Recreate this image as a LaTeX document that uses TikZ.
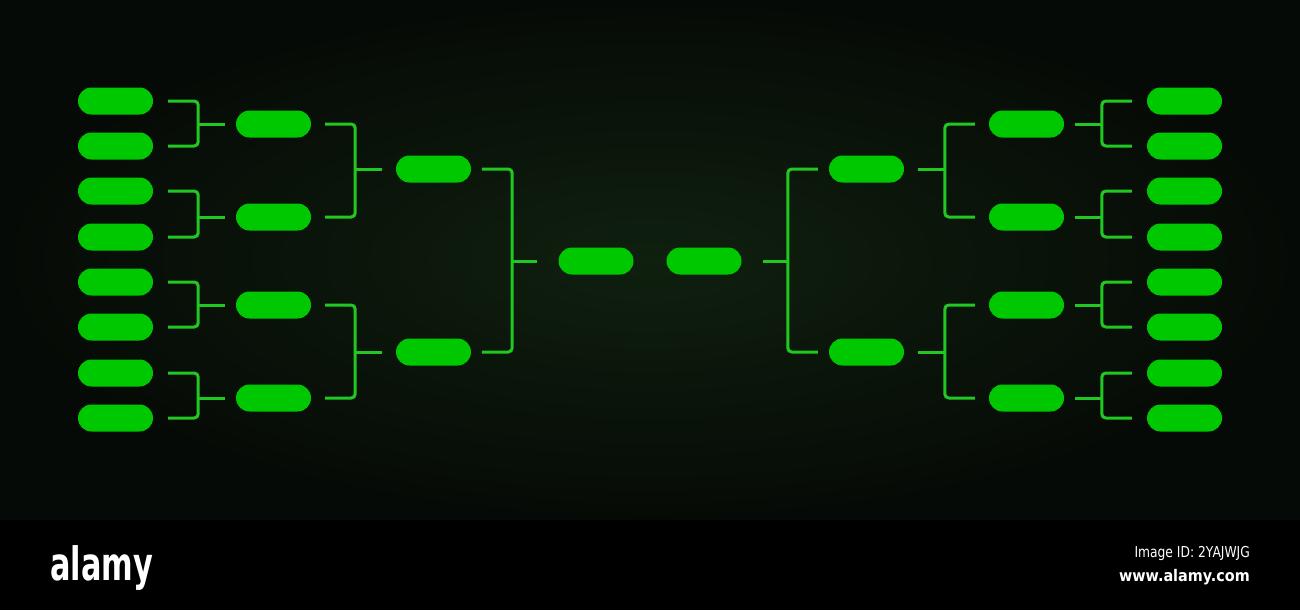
\documentclass[tikz,border=0pt]{standalone}
\usepackage{fontspec}
\setmainfont{DejaVu Sans}
\usetikzlibrary{calc}
\definecolor{pill}{RGB}{0,200,0}
\definecolor{wirec}{RGB}{34,200,34}
\definecolor{bgin}{RGB}{15,32,15}
\definecolor{bgout}{RGB}{6,10,6}
% left-side bracket: top node, bottom node, target node, gap, vertical offset, target gap
\newcommand\brL[6]{%
  \coordinate (tmpv) at ($(#1.east)+(#4+#5,0)$);
  \draw[wire] ($(#1.east)+(#4,0)$) -- (tmpv) |- ($(#2.east)+(#4,0)$);
  \draw[wire] (tmpv |- #3.west) -- ($(#3.west)+(-#6,0)$);}
% right-side bracket (mirrored)
\newcommand\brR[6]{%
  \coordinate (tmpv) at ($(#1.west)+(-#4-#5,0)$);
  \draw[wire] ($(#1.west)+(-#4,0)$) -- (tmpv) |- ($(#2.west)+(-#4,0)$);
  \draw[wire] (tmpv |- #3.east) -- ($(#3.east)+(#6,0)$);}
\begin{document}
\begin{tikzpicture}[x=1pt,y=-1pt,
  pillbox/.style={fill=pill, draw=none, rectangle, rounded corners=13.5pt,
    minimum width=75pt, minimum height=27pt, inner sep=0pt},
  wire/.style={draw=wirec, line width=3pt, rounded corners=4pt}]
\useasboundingbox (0,0) rectangle (1300,610);
\shade[inner color=bgin, outer color=bgout] (0,0) rectangle (1300,520);
\fill[black] (0,520) rectangle (1300,610);
% round 1
\foreach \i/\y in {1/101,2/146,3/191,4/237,5/282,6/327,7/373,8/418} {
  \node[pillbox] (La\i) at (115.5,\y) {};
  \node[pillbox] (Ra\i) at (1184.5,\y) {};
}
% round 2
\foreach \i/\y in {1/124,2/217,3/305,4/398} {
  \node[pillbox] (Lb\i) at (273.5,\y) {};
  \node[pillbox] (Rb\i) at (1026.5,\y) {};
}
% round 3
\foreach \i/\y in {1/169,2/352} {
  \node[pillbox] (Lc\i) at (433.5,\y) {};
  \node[pillbox] (Rc\i) at (866.5,\y) {};
}
% final
\node[pillbox] (FL) at (596,261) {};
\node[pillbox] (FR) at (704,261) {};
% brackets left
\brL{La1}{La2}{Lb1}{15}{30}{11}
\brL{La3}{La4}{Lb2}{15}{30}{11}
\brL{La5}{La6}{Lb3}{15}{30}{11}
\brL{La7}{La8}{Lb4}{15}{30}{11}
\brL{Lb1}{Lb2}{Lc1}{14}{30}{14}
\brL{Lb3}{Lb4}{Lc2}{14}{30}{14}
\brL{Lc1}{Lc2}{FL}{11}{30}{21}
% brackets right
\brR{Ra1}{Ra2}{Rb1}{15}{30}{11}
\brR{Ra3}{Ra4}{Rb2}{15}{30}{11}
\brR{Ra5}{Ra6}{Rb3}{15}{30}{11}
\brR{Ra7}{Ra8}{Rb4}{15}{30}{11}
\brR{Rb1}{Rb2}{Rc1}{14}{30}{14}
\brR{Rb3}{Rb4}{Rc2}{14}{30}{14}
\brR{Rc1}{Rc2}{FR}{11}{30}{21}
% footer
\node[text=white, font=\bfseries\fontsize{46}{46}\selectfont, xscale=0.66,
  anchor=base west, inner sep=0pt] (logo) at (50,580) {alamy};
\node[text=white, font=\fontsize{15}{15}\selectfont, xscale=0.82,
  anchor=base east, inner sep=0pt] (imgid) at (1250,557) {Image ID: 2YAJWJG};
\node[text=white, font=\bfseries\fontsize{16}{16}\selectfont, xscale=0.9,
  anchor=base east, inner sep=0pt] (url) at (1250,581) {www.alamy.com};
\end{tikzpicture}
\end{document}
